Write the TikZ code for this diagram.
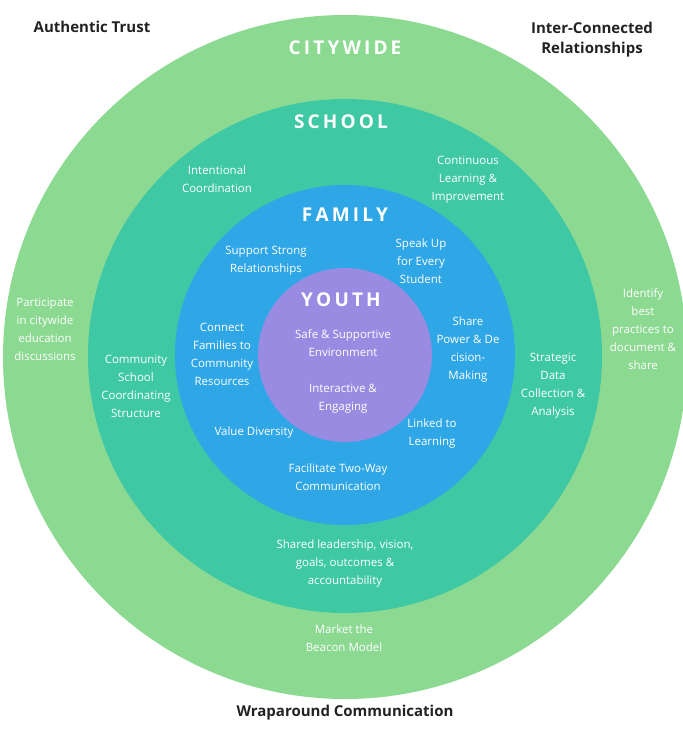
\documentclass[tikz,border=0pt]{standalone}
\usepackage{fontspec}
\setmainfont{Open Sans}
\definecolor{cgreen}{HTML}{8CD992}
\definecolor{cteal}{HTML}{3FC8A4}
\definecolor{cblue}{HTML}{2FA6E6}
\definecolor{cpurp}{HTML}{9A8BE2}
\definecolor{cdark}{HTML}{222222}
\begin{document}
\begin{tikzpicture}[x=1pt,y=-1pt,
 lab/.style={text=white,align=center,font=\fontsize{11.5}{18}\selectfont},
 head/.style={text=white,font=\bfseries\fontsize{19}{22}\selectfont},
 corner/.style={text=cdark,align=center,font=\bfseries\fontsize{15}{20}\selectfont}]
\useasboundingbox (0,0) rectangle (683,729);
\fill[cgreen] (345,357) circle (342);
\fill[cteal] (345,356) circle (257);
\fill[cblue] (345,355) circle (170);
\fill[cpurp] (345,355) circle (87);
\node[corner] (at1) at (92,27) {Authentic Trust};
\node[corner] (ic) at (592,40) {Inter-Connected\\Relationships};
\node[corner] (wc) at (345,713) {Wraparound Communication};
\node[head] (cw) at (345,48) {C\,I\,T\,Y\,W\,I\,D\,E};
\node[head] (sc) at (341,122) {S\,C\,H\,O\,O\,L};
\node[head] (fa) at (345,215) {F\,A\,M\,I\,L\,Y};
\node[head] (yo) at (341,300) {Y\,O\,U\,T\,H};
\node[lab] (p1) at (45,329) {Participate\\in citywide\\education\\discussions};
\node[lab] (p2) at (643,329) {Identify\\best\\practices to\\document \&\\share};
\node[lab] (p3) at (344,638) {Market the\\Beacon Model};
\node[lab] (s1) at (217,179) {Intentional\\Coordination};
\node[lab] (s2) at (468,180) {Continuous\\Learning \&\\Improvement};
\node[lab] (s3) at (136,386) {Community\\School\\Coordinating\\Structure};
\node[lab] (s4) at (553,386) {Strategic\\Data\\Collection \&\\Analysis};
\node[lab] (s5) at (345,564) {Shared leadership, vision,\\goals, outcomes \&\\accountability};
\node[lab] (f1) at (266,261) {Support Strong\\Relationships};
\node[lab] (f2) at (421,261) {Speak Up\\for Every\\Student};
\node[lab] (f3) at (222,354) {Connect\\Families to\\Community\\Resources};
\node[lab] (f4) at (468,350) {Share\\Power \& De\\cision-\\Making};
\node[lab] (f5) at (254,433) {Value Diversity};
\node[lab] (f6) at (432,434) {Linked to\\Learning};
\node[lab] (f7) at (338,477) {Facilitate Two-Way\\Communication};
\node[lab] (y1) at (343,343) {Safe \& Supportive\\Environment};
\node[lab] (y2) at (343,399) {Interactive \&\\Engaging};
\end{tikzpicture}
\end{document}
